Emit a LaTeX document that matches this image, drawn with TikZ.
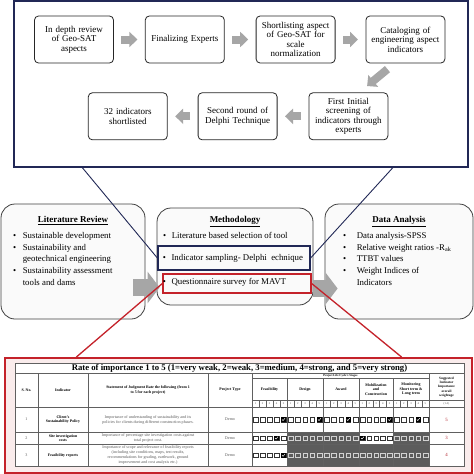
\documentclass[tikz,border=0pt]{standalone}
\usepackage{fontspec}
\setmainfont{Liberation Serif}
\usetikzlibrary{positioning,arrows.meta,calc}

\definecolor{navyline}{RGB}{33,40,86}
\definecolor{redline}{RGB}{196,34,42}
\definecolor{arrowgray}{RGB}{166,166,166}
\definecolor{cellgray}{RGB}{92,92,92}
\definecolor{framepink}{RGB}{250,236,236}
\definecolor{numred}{RGB}{178,32,42}

% bullet and indent of a list line
\newcommand{\bmark}[1]{\makebox[#1][l]{\textbullet}}
\newcommand{\bgap}[1]{\hspace*{#1}}

% one rating box of the table: x, y, index, ticked index, dark cell
\newcommand{\ratebox}[5]{%
  \ifnum#5=1 \draw[darkbox] (#1,#2) ++(-2.3,-2.3) rectangle ++(4.6,4.6);
  \else \draw[lightbox] (#1,#2) ++(-2.3,-2.3) rectangle ++(4.6,4.6); \fi
  \ifnum#3=#4 \fill[black] (#1,#2) ++(-2.3,-2.3) rectangle ++(4.6,4.6);
    \draw[white, line width=0.45pt] (#1,#2) ++(-1.4,0) -- ++(1,1.1) -- ++(1.9,-2.4); \fi}

\begin{document}
\begin{tikzpicture}[x=1pt, y=-1pt,
    node distance=31pt,
    stepbox/.style={draw=black!85, line width=0.8pt, rounded corners=4pt, fill=white,
        minimum width=79pt, minimum height=47pt, text width=76pt, inner sep=1.5pt,
        align=center, font=\fontsize{9}{9.6}\selectfont},
    flowarrow/.style={draw=arrowgray, line width=8pt, -{Triangle[length=8pt,width=15pt]},
        shorten <=7.5pt, shorten >=7.5pt},
    midarrow/.style={draw=arrowgray, line width=17pt, -{Triangle[length=12pt,width=31pt]}},
    phasebox/.style={draw=black!75, line width=0.8pt, rounded corners=14pt, fill=gray!4},
    phasetitle/.style={inner sep=0, font=\bfseries\fontsize{9}{10}\selectfont},
    listtext/.style={align=left, inner sep=0, font=\fontsize{8.8}{11.7}\selectfont},
    bulletitem/.style={inner sep=0, font=\fontsize{8.8}{10}\selectfont},
    gridline/.style={draw=gray!75!black, line width=0.35pt},
    lightbox/.style={draw=black!80, line width=0.35pt, fill=white},
    darkbox/.style={draw=gray!35, line width=0.35pt, fill=cellgray},
    tabhead/.style={inner sep=0, align=center, font=\bfseries\fontsize{3.9}{4.6}\selectfont},
    tabcell/.style={inner sep=0, align=center, text=black!65, font=\fontsize{4.1}{5}\selectfont},
    tinynum/.style={inner sep=0, text=black!70, font=\fontsize{2.8}{3}\selectfont}
]
\useasboundingbox (0,0) rectangle (474,474);
\fill[white] (0,0) rectangle (474,474);

% Delphi steps
\node[draw=navyline, line width=1.6pt, minimum width=454pt, minimum height=166pt, inner sep=0] (flowframe) at (241,84) {};

\node[stepbox] (review) at (74,39.5) {In depth review\\of Geo-SAT\\aspects};
\node[stepbox, right=of review] (experts) {Finalizing Experts};
\node[stepbox, right=of experts] (shortlisting) {Shortlisting aspect\\of Geo-SAT for\\scale\\normalization};
\node[stepbox, right=30pt of shortlisting] (catalog) {Cataloging of\\engineering aspect\\indicators};
\node[stepbox, below=29pt of catalog, xshift=-57pt] (screening) {First Initial\\screening of\\indicators through\\experts};
\node[stepbox, left=of screening] (delphi) {Second round of\\Delphi Technique};
\node[stepbox, left=30pt of delphi] (shortlisted) {32 indicators\\shortlisted};

\draw[flowarrow] (review) -- (experts);
\draw[flowarrow] (experts) -- (shortlisting);
\draw[flowarrow] (shortlisting) -- (catalog);
\draw[flowarrow, shorten <=9pt, shorten >=10pt] ([xshift=-11pt]catalog.south) -- ([xshift=11pt]screening.north);
\draw[flowarrow] (screening) -- (delphi);
\draw[flowarrow] (delphi) -- (shortlisted);

% three phases
\node[phasebox, minimum width=144pt, minimum height=115pt] (litreview) at (73,261.5) {};
\node[phasebox, minimum width=156pt, minimum height=97pt] (method) at (235,256.5) {};
\node[phasebox, minimum width=148pt, minimum height=115pt] (analysis) at (399,261.5) {};

\node[phasetitle, below=12.5pt of litreview.north] {\underline{Literature Review}};
\node[phasetitle, below=8.5pt of method.north] {\underline{Methodology}};
\node[phasetitle, below=12.5pt of analysis.north] {\underline{Data Analysis}};

\node[listtext, anchor=north west] (litlist) at ([shift={(12.3,28.4)}]litreview.north west)
    {\bmark{9.7pt}Sustainable development\\
     \bmark{9.7pt}Sustainability and\\
     \bgap{9.7pt}geotechnical engineering\\
     \bmark{9.7pt}Sustainability assessment\\
     \bgap{9.7pt}tools and dams};
\node[listtext, anchor=north west] (dalist) at ([shift={(18.3,28.4)}]analysis.north west)
    {\bmark{13.7pt}Data analysis-SPSS\\
     \bmark{13.7pt}Relative weight ratios -R\textsubscript{ak}\\
     \bmark{13.7pt}TTBT values\\
     \bmark{13.7pt}Weight Indices of\\
     \bgap{13.7pt}Indicators};

\node[draw=navyline, line width=1.3pt, minimum width=152pt, minimum height=24pt, inner sep=0] (sampling) at (234,258) {};
\node[draw=redline, line width=1.3pt, minimum width=148pt, minimum height=19pt, inner sep=0] (survey) at (237,283.5) {};

\node[bulletitem, anchor=west] (tooltext) at ([shift={(6.4,-21.5)}]method.west) {\bmark{8.6pt}Literature based selection of tool};
\node[bulletitem, anchor=west] (samplingtext) at ([xshift=5.4pt]sampling.west) {\bmark{8.6pt}Indicator sampling- Delphi\ \ echnique};
\node[bulletitem, anchor=west] (surveytext) at ([shift={(0.4,-1.5)}]survey.west) {\bmark{8.6pt}Questionnaire survey for MAVT};

\draw[midarrow] ([shift={(-12,26)}]litreview.east) -- ([shift={(3,31)}]method.west);
\draw[midarrow] ([shift={(0,32)}]method.east) -- ([shift={(13,27)}]analysis.west);

% rating table
\node[draw=redline, line width=1.8pt, fill=framepink, minimum width=467pt, minimum height=115pt, inner sep=0] (ratingframe) at (238.5,415.5) {};
\fill[white] (15,363) rectangle (464,466.5);
\fill[cellgray] (287,432) rectangle (359,444);
\fill[cellgray] (393,432) rectangle (429,444);
\fill[cellgray] (287,444) rectangle (429,466.5);

\draw[gridline] (15,363) rectangle (464,466.5);
\foreach \yy in {373.5,407,432,444} \draw[gridline] (15,\yy) -- (464,\yy);
\draw[gridline] (252,378) -- (429,378);
\draw[gridline] (252,400.5) -- (464,400.5);
\foreach \xx in {38,88,208,252,429} \draw[gridline] (\xx,373.5) -- (\xx,466.5);
\foreach \xx in {287,323,359,393} \draw[gridline] (\xx,378) -- (\xx,466.5);
\foreach \xl/\xr in {252/287,287/323,323/359,359/393,393/429}{
  \foreach \k in {1,...,5}{
    \pgfmathsetmacro\cx{\xl+(\k-0.5)*(\xr-\xl)/5}
    \pgfmathsetmacro\lx{\xl+\k*(\xr-\xl)/5}
    \node[tinynum] at (\cx,403.75) {\k};
    \ifnum\k<5 \draw[gridline, line width=0.2pt] (\lx,400.5) -- (\lx,407); \fi
  }}

\node[font=\bfseries\fontsize{8.7}{9}\selectfont, inner sep=0] (ratetitle) at (239.5,368.5)
    {Rate of importance 1 to 5 (1=very weak, 2=weak, 3=medium, 4=strong, and 5=very strong)};
\node[tabhead] at (26.5,390) {S. No.};
\node[tabhead] at (63,390) {Indicator};
\node[tabhead] at (148,390) {Statement of Judgment Rate the following (from 1\\to 5 for each project)};
\node[tabhead] at (230,390) {Project Type};
\node[tabhead, font=\bfseries\fontsize{3}{3.4}\selectfont] at (340.5,375.8) {Project Life Cycle's Stages};
\node[tabhead] at (269.5,389.3) {Feasibility};
\node[tabhead] at (305,389.3) {Design};
\node[tabhead] at (341,389.3) {Award};
\node[tabhead] at (376,389.3) {Mobilization\\and\\Construction};
\node[tabhead] at (411,389.3) {Monitoring\\Short term \&\\Long term};
\node[tabhead, font=\bfseries\fontsize{3.4}{4.4}\selectfont] at (446.5,387) {Suggested\\Indicator\\Importance\\overall\\weightage};
\node[tinynum] at (446.5,403.75) {(1-5)};

\node[tabcell] at (26.5,419.5) {1};
\node[tabhead] at (63,419.5) {Client's\\Sustainability Policy};
\node[tabcell] at (148,419.5) {Importance of understanding of sustainability and its\\policies for clients during different construction phases.};
\node[tabcell] at (230,419.5) {Demo};
\node[tabcell] at (26.5,438) {2};
\node[tabhead] at (63,438) {Site investigation\\costs};
\node[tabcell] at (148,438) {Importance of percentage site investigation costs against\\total project cost.};
\node[tabcell] at (230,438) {Demo};
\node[tabcell] at (26.5,455.25) {3};
\node[tabhead] at (63,455.25) {Feasibility reports};
\node[tabcell] at (148,455.25) {Importance of scope and relevance of feasibility reports\\(including site conditions, maps, test results,\\recommendations for grading, earthwork, ground\\improvement and cost analysis etc.)};
\node[tabcell] at (230,455.25) {Demo};

\foreach \xl/\xr/\tickat/\dark in {252/287/5/0,287/323/5/0,323/359/4/0,359/393/5/0,393/429/4/0}{
  \foreach \k in {1,...,5}{
    \pgfmathsetmacro\cx{\xl+(\k-0.5)*(\xr-\xl)/5}
    \ratebox{\cx}{419.5}{\k}{\tickat}{\dark}
  }}
\foreach \xl/\xr/\tickat/\dark in {252/287/4/0,287/323/0/1,323/359/0/1,359/393/1/0,393/429/0/1}{
  \foreach \k in {1,...,5}{
    \pgfmathsetmacro\cx{\xl+(\k-0.5)*(\xr-\xl)/5}
    \ratebox{\cx}{438}{\k}{\tickat}{\dark}
  }}
\foreach \xl/\xr/\tickat/\dark in {252/287/5/0,287/323/0/1,323/359/0/1,359/393/0/1,393/429/0/1}{
  \foreach \k in {1,...,5}{
    \pgfmathsetmacro\cx{\xl+(\k-0.5)*(\xr-\xl)/5}
    \ratebox{\cx}{455.25}{\k}{\tickat}{\dark}
  }}

\node[tabcell, text=numred, font=\fontsize{4.8}{5}\selectfont] at (446.5,419.5) {5};
\node[tabcell, text=numred, font=\fontsize{4.8}{5}\selectfont] at (446.5,438) {3};
\node[tabcell, text=numred, font=\fontsize{4.8}{5}\selectfont] at (446.5,455.25) {4};

% links between the parts
\draw[navyline, line width=0.9pt] ($(flowframe.south west)!0.152!(flowframe.south east)$) -- (sampling.west);
\draw[navyline, line width=0.9pt] ($(flowframe.south west)!0.833!(flowframe.south east)$) -- (sampling.east);
\draw[redline, line width=1.3pt] (survey.west) -- ($(ratingframe.north west)!0.154!(ratingframe.north east)$);
\draw[redline, line width=1.3pt] (survey.east) -- ($(ratingframe.north west)!0.848!(ratingframe.north east)$);

\end{tikzpicture}
\end{document}
